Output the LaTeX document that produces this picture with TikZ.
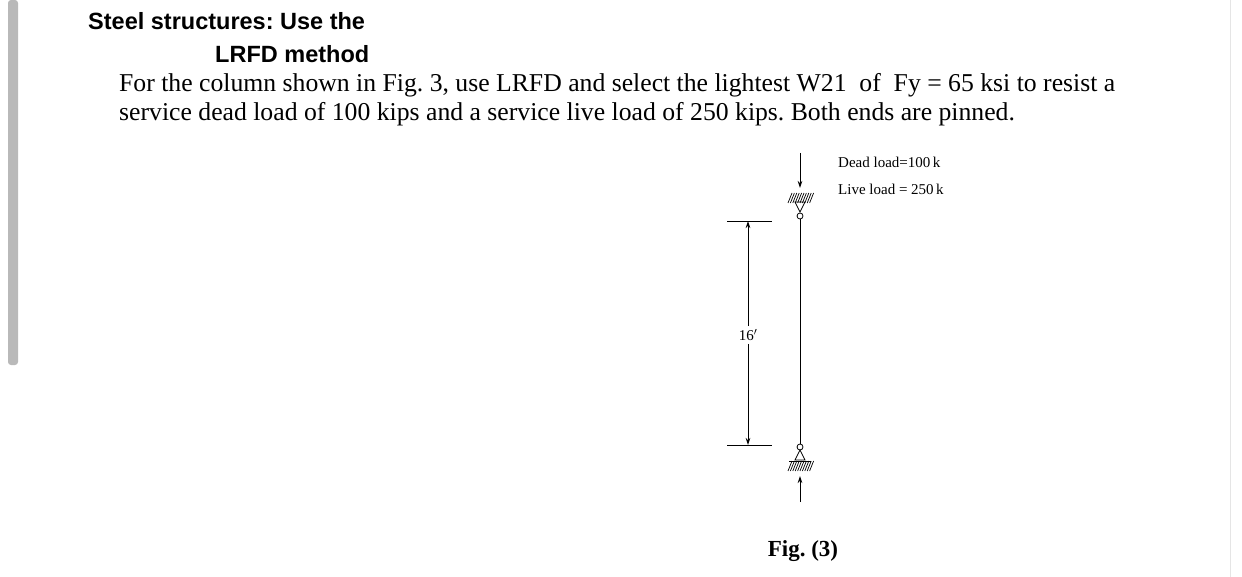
\documentclass[tikz,border=0pt]{standalone}
\usepackage{fontspec}
\setmainfont{Liberation Serif}
\newfontfamily\titlefont{Liberation Sans}
\usetikzlibrary{arrows.meta,patterns}
\begin{document}
\frenchspacing
\begin{tikzpicture}[x=1pt,y=-1pt,
  ln/.style={line width=0.8pt},
  arr/.style={ln,-{Stealth[length=7pt,width=4.5pt]}},
  hatchbar/.style={ln}]
\useasboundingbox (0,0) rectangle (1242,577);
\fill[gray!55,rounded corners=3pt] (8,0) rectangle (18,365);
\draw[gray!20] (1230,0) -- (1230,577);
\node[anchor=base west,font=\titlefont\bfseries\fontsize{23.5}{26}\selectfont,inner sep=0] (t1) at (88,30) {Steel structures: Use the};
\node[anchor=base west,font=\titlefont\bfseries\fontsize{23.5}{26}\selectfont,inner sep=0] (t2) at (215,63) {LRFD method};
\node[anchor=base west,font=\fontsize{25.7}{29}\selectfont,inner sep=0] (p1) at (119,92) {For the column shown in Fig. 3, use LRFD and select the lightest W21\ \ of\ \ Fy = 65 ksi to resist a};
\node[anchor=base west,font=\fontsize{25.7}{29}\selectfont,inner sep=0] (p2) at (119,121) {service dead load of 100 kips and a service live load of 250 kips. Both ends are pinned.};
% column
\coordinate (topA) at (800,153);
\coordinate (topB) at (800,188);
\draw[arr] (topA) -- (topB);
% top support
\foreach \i in {0,...,9} \draw[line width=0.7pt] (788+\i*2.4,203) -- (792+\i*2.4,193);
\draw[ln] (795,202) -- (805,202) -- (800,212) -- cycle;
\node[circle,draw,line width=0.8pt,minimum size=6pt,inner sep=0,fill=white] (ct) at (800,216) {};
% bottom support
\node[circle,draw,line width=0.8pt,minimum size=6pt,inner sep=0,fill=white] (cb) at (800,447) {};
\draw[ln] (cb) -- (ct);
\draw[ln] (800,450) -- (795,460) -- (805,460) -- cycle;
\draw[ln] (789,461) -- (811,461);
\foreach \i in {0,...,9} \draw[line width=0.7pt] (788+\i*2.4,471) -- (792+\i*2.4,461);
\coordinate (botA) at (800,502);
\coordinate (botB) at (800,476);
\draw[arr] (botA) -- (botB);
% dimension
\coordinate (d1) at (748,221);
\coordinate (d2) at (748,445);
\draw[ln] (727,221) -- (772,221);
\draw[ln] (727,445) -- (772,445);
\node[font=\fontsize{15}{17}\selectfont,fill=white,inner sep=3pt] (dl) at (748,335) {16$'$};
\draw[arr] (dl) -- (d1);
\draw[arr] (dl) -- (d2);
\node[anchor=base west,font=\fontsize{15}{17}\selectfont,inner sep=0] (dead) at (838,168) {Dead load=100\,k};
\node[anchor=base west,font=\fontsize{15}{17}\selectfont,inner sep=0] (live) at (838,195) {Live load = 250\,k};
\node[anchor=base,font=\bfseries\fontsize{23}{26}\selectfont,inner sep=0] (fig) at (803,556) {Fig. (3)};
\end{tikzpicture}
\end{document}
